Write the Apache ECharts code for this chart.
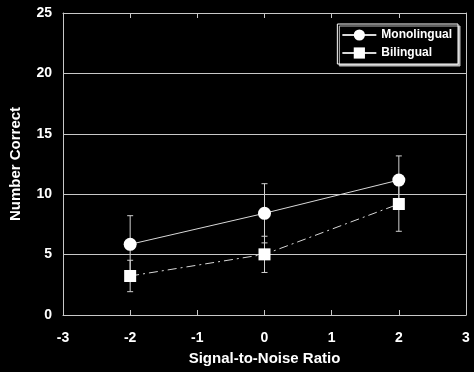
<!DOCTYPE html>
<html><head><meta charset="utf-8">
<style>html,body{margin:0;padding:0;background:#000;}#c{width:474px;height:372px;}</style>
<script src="https://cdn.jsdelivr.net/npm/echarts@6/dist/echarts.min.js"></script>
</head><body><div id="c"></div>
<script>
const snr = [-2, 0, 2];
const monoMean = [5.85, 8.42, 11.17];
const monoErr = [2.37, 2.45, 2.0];
const biMean = [3.23, 5.02, 9.19];
const biErr = [1.3, 1.5, 2.26];
const xTicks = [-3, -2, -1, 0, 1, 2, 3];
const yTicks = [0, 5, 10, 15, 20, 25];

const chart = echarts.init(document.getElementById('c'));
const axisCol = '#c8c8c8';
const font = 'Liberation Sans, Arial, sans-serif';

function errSeries(name, mean, err) {
  return {
    type: 'custom', name: name + 'Err', silent: true, z: 1,
    data: snr.map((x, i) => [x, mean[i] - err[i], mean[i] + err[i]]),
    renderItem: function (params, api) {
      const lo = api.coord([api.value(0), api.value(1)]);
      const hi = api.coord([api.value(0), api.value(2)]);
      const w = 3;
      const st = { stroke: '#d0d0d0', lineWidth: 1 };
      return { type: 'group', children: [
        { type: 'line', shape: { x1: lo[0], y1: lo[1], x2: hi[0], y2: hi[1] }, style: st },
        { type: 'line', shape: { x1: lo[0] - w, y1: lo[1], x2: lo[0] + w, y2: lo[1] }, style: st },
        { type: 'line', shape: { x1: hi[0] - w, y1: hi[1], x2: hi[0] + w, y2: hi[1] }, style: st }
      ]};
    }
  };
}

chart.setOption({
  backgroundColor: '#000',
  animation: false,
  grid: { left: 61, right: 8, top: 13, bottom: 57 },
  xAxis: [{
    type: 'value', min: -3, max: 3, interval: 1, position: 'bottom',
    name: 'Signal-to-Noise Ratio', nameLocation: 'middle', nameGap: 36,
    nameTextStyle: { color: '#fff', fontSize: 15, fontWeight: 'bold', fontFamily: font },
    axisLine: { show: true, onZero: false, lineStyle: { color: axisCol, width: 1 } },
    axisTick: { show: true, inside: true, length: 5, lineStyle: { color: axisCol } },
    axisLabel: { color: '#fff', fontSize: 14, fontWeight: 'bold', fontFamily: font, margin: 16,
      formatter: v => xTicks.includes(v) ? String(v) : '' },
    splitLine: { show: false }
  }, {
    type: 'value', min: -3, max: 3, interval: 1, position: 'top',
    axisLine: { show: true, onZero: false, lineStyle: { color: axisCol, width: 1 } },
    axisTick: { show: true, inside: true, length: 5, lineStyle: { color: axisCol } },
    axisLabel: { show: false },
    splitLine: { show: false }
  }],
  yAxis: [{
    type: 'value', min: 0, max: 25, interval: 5, position: 'left',
    name: 'Number Correct', nameLocation: 'middle', nameGap: 40,
    nameTextStyle: { color: '#fff', fontSize: 15, fontWeight: 'bold', fontFamily: font },
    axisLine: { show: true, onZero: false, lineStyle: { color: axisCol, width: 1 } },
    axisTick: { show: false },
    axisLabel: { color: '#fff', fontSize: 14, fontWeight: 'bold', fontFamily: font, margin: 11,
      formatter: v => yTicks.includes(v) ? String(v) : '' },
    splitLine: { show: true, lineStyle: { color: axisCol, width: 1 } }
  }, {
    type: 'value', min: 0, max: 25, interval: 5, position: 'right',
    axisLine: { show: true, onZero: false, lineStyle: { color: axisCol, width: 1 } },
    axisTick: { show: false },
    axisLabel: { show: false },
    splitLine: { show: false }
  }],
  legend: {
    right: 16, top: 24, orient: 'vertical',
    itemWidth: 34, itemHeight: 14, itemGap: 6,
    padding: [5, 6, 5, 4],
    borderColor: '#fff', borderWidth: 1, borderRadius: 0,
    backgroundColor: '#000',
    shadowColor: '#bbb', shadowOffsetX: 2, shadowOffsetY: 2, shadowBlur: 0,
    lineStyle: { type: 'solid' },
    textStyle: { color: '#fff', fontSize: 12, fontWeight: 'bold', fontFamily: font },
    data: ['Monolingual', 'Bilingual']
  },
  series: [
    errSeries('Monolingual', monoMean, monoErr),
    errSeries('Bilingual', biMean, biErr),
    {
      name: 'Monolingual', type: 'line', z: 3,
      data: snr.map((x, i) => [x, monoMean[i]]),
      symbol: 'circle', symbolSize: 13,
      lineStyle: { color: '#d8d8d8', width: 1 },
      itemStyle: { color: '#fff', borderWidth: 0 }
    },
    {
      name: 'Bilingual', type: 'line', z: 3,
      data: snr.map((x, i) => [x, biMean[i]]),
      symbol: 'rect', symbolSize: 12,
      lineStyle: { color: '#d8d8d8', width: 1, type: [9, 4, 2, 4] },
      itemStyle: { color: '#fff', borderWidth: 0 }
    }
  ]
});
</script></body></html>
